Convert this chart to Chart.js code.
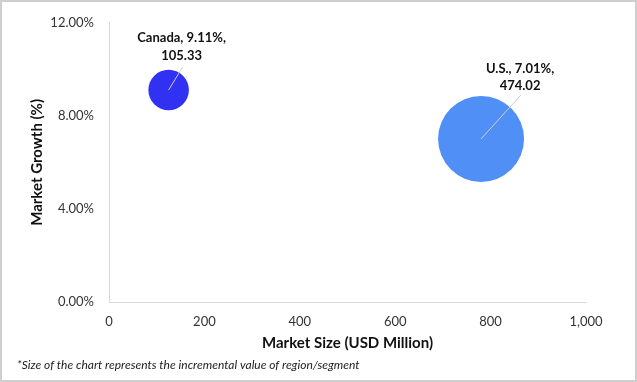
<!DOCTYPE html>
<html><head><meta charset="utf-8">
<script src="https://cdn.jsdelivr.net/npm/chart.js@4.4.0/dist/chart.umd.min.js"></script>
<style>html,body{margin:0;padding:0;background:#fff}#wrap{width:637px;height:382px;position:relative}</style>
</head><body><div id="wrap"><canvas id="c" width="637" height="382"></canvas></div>
<script>
const regions = ['Canada', 'U.S.'];
const marketSize = [125, 780];          // USD Million (x)
const marketGrowth = [9.11, 7.01];      // % (y)
const incrementalValue = [105.33, 474.02]; // bubble size
const bubbleColors = ['#3131F3', '#4F8FF6'];
const xTickValues = [0, 200, 400, 600, 800, 1000];
const yTickValues = [0, 4, 8, 12];
const xTitle = 'Market Size (USD Million)';
const yTitle = 'Market Growth (%)';
const footnote = '*Size of the chart represents the incremental value of region/segment';

// label placement (style, pixels relative to bubble centre)
const labelOffsets = [
  {tx: 13, ty1: -52, ty2: -34, lx: 14, ly: -23},
  {tx: 39, ty1: -70, ty2: -53, lx: 40, ly: -44}
];
const RADIUS_K = 1.975;

const FONT = 'Lato, "Open Sans", sans-serif';

const labelPlugin = {
  id: 'bubbleLabels',
  beforeDraw(chart) {
    const ctx = chart.ctx;
    ctx.save();
    ctx.fillStyle = '#ffffff';
    ctx.fillRect(0, 0, chart.width, chart.height);
    ctx.strokeStyle = '#cfcfcf';
    ctx.lineWidth = 2;
    ctx.strokeRect(1, 1, chart.width - 2, chart.height - 2);
    ctx.restore();
  },
  afterDatasetsDraw(chart) {
    const ctx = chart.ctx;
    const meta = chart.getDatasetMeta(0);
    ctx.save();
    meta.data.forEach((el, i) => {
      const o = labelOffsets[i];
      ctx.strokeStyle = '#d0d0d0';
      ctx.lineWidth = 1;
      ctx.beginPath();
      ctx.moveTo(el.x, el.y);
      ctx.lineTo(el.x + o.lx, el.y + o.ly);
      ctx.stroke();
      ctx.fillStyle = '#111111';
      ctx.font = 'bold 13px ' + FONT;
      ctx.textAlign = 'center';
      ctx.textBaseline = 'middle';
      ctx.fillText(regions[i] + ', ' + marketGrowth[i].toFixed(2) + '%,', el.x + o.tx, el.y + o.ty1);
      ctx.fillText(incrementalValue[i].toFixed(2), el.x + o.tx, el.y + o.ty2);
    });
    ctx.restore();
  },
  afterDraw(chart) {
    const ctx = chart.ctx;
    ctx.save();
    ctx.fillStyle = '#222222';
    ctx.font = 'italic 12px ' + FONT;
    ctx.textAlign = 'left';
    ctx.textBaseline = 'middle';
    ctx.fillText(footnote, 17, 365);
    ctx.restore();
  }
};

new Chart(document.getElementById('c'), {
  type: 'bubble',
  data: {
    datasets: [{
      data: regions.map((r, i) => ({x: marketSize[i], y: marketGrowth[i], r: RADIUS_K * Math.sqrt(incrementalValue[i])})),
      backgroundColor: bubbleColors,
      borderColor: bubbleColors,
      borderWidth: 0,
      hoverRadius: 0
    }]
  },
  options: {
    responsive: false,
    animation: false,
    devicePixelRatio: 1,
    layout: {autoPadding: false, padding: {left: 0, top: 20, right: 51, bottom: 30}},
    plugins: {legend: {display: false}, tooltip: {enabled: false}},
    scales: {
      x: {
        type: 'linear', min: 0, max: 1000,
        afterBuildTicks: s => { s.ticks = xTickValues.map(v => ({value: v})); },
        afterFit: s => { s.height = 50; },
        grid: {display: false, drawTicks: false},
        border: {display: true, color: '#d9d9d9', width: 1},
        ticks: {padding: 12, color: '#333', font: {family: FONT, size: 13},
          callback: v => v.toLocaleString('en-US')},
        title: {display: true, text: xTitle, color: '#111', padding: {top: 0, bottom: 0},
          font: {family: FONT, size: 15, weight: 'bold'}}
      },
      y: {
        type: 'linear', min: 0, max: 12,
        afterBuildTicks: s => { s.ticks = yTickValues.map(v => ({value: v})); },
        afterFit: s => { s.width = 109; },
        grid: {display: false, drawTicks: false},
        border: {display: true, color: '#d9d9d9', width: 1},
        ticks: {padding: 15, color: '#333', font: {family: FONT, size: 13},
          callback: v => v.toFixed(2) + '%'},
        title: {display: true, text: yTitle, color: '#111', padding: {top: 28, bottom: 0},
          font: {family: FONT, size: 15, weight: 'bold'}}
      }
    }
  },
  plugins: [labelPlugin]
});
</script></body></html>
